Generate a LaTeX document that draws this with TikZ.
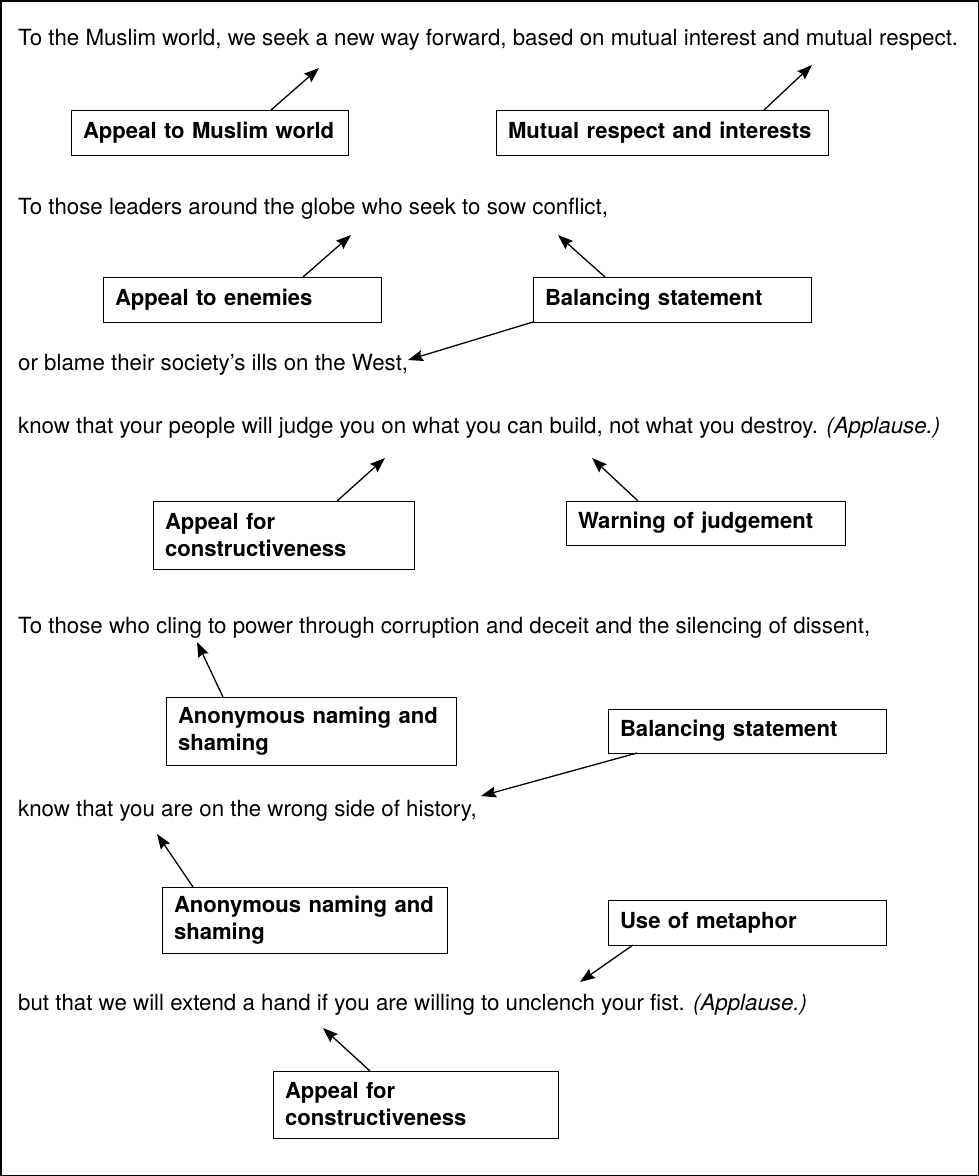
\documentclass[tikz,border=0pt]{standalone}
\usepackage{fontspec}
\setmainfont{TeX Gyre Heros}
\usetikzlibrary{arrows.meta}

\begin{document}
\begin{tikzpicture}[
		x=1pt, y=-1pt,
		font=\fontsize{22.3}{27}\selectfont,
		% Speech line styles
		speech/.style={anchor=base west, inner sep=0pt},
		% Annotation box styles
		tag/.style={draw, line width=1pt, anchor=north west, font=\fontsize{22.1}{27}\selectfont\bfseries, align=left, inner xsep=12pt, inner ysep=0pt, outer sep=0pt},
		% Pointer styles
		pointer/.style={-{Stealth[length=15pt, width=11pt, inset=2pt]}, line width=1.3pt}
		]
		
		\useasboundingbox (0,0) rectangle (979,1176);
		\draw[line width=1.5pt] (0.75,0.75) rectangle (978.25,1175.25);
		
		% --- SPEECH LINES ---
		\node[speech] (l1) at (18,45) {To the Muslim world, we seek a new way forward, based on mutual interest and mutual respect.};
		\node[speech] (l2) at (18,214) {To those leaders around the globe who seek to sow conflict,};
		\node[speech] (l3) at (18,370) {or blame their society's ills on the West,};
		\node[speech] (l4) at (18,433) {know that your people will judge you on what you can build, not what you destroy. \textit{(Applause.)}};
		\node[speech] (l5) at (18,633) {To those who cling to power through corruption and deceit and the silencing of dissent,};
		\node[speech] (l6) at (18,816) {know that you are on the wrong side of history,};
		\node[speech] (l7) at (18,1010) {but that we will extend a hand if you are willing to unclench your fist. \textit{(Applause.)}};
		
		% --- ANNOTATION BOXES ---
		\node[tag, text width=253pt, minimum height=45pt] (muslim) at (71,110) {Appeal to Muslim world};
		\node[tag, text width=308pt, minimum height=45pt] (mutual) at (496,110) {Mutual respect and interests};
		\node[tag, text width=254pt, minimum height=45pt] (enemies) at (103,277) {Appeal to enemies};
		\node[tag, text width=254pt, minimum height=45pt] (balanceA) at (533,277) {Balancing statement};
		\node[tag, text width=237pt, minimum height=68pt] (constructA) at (153,501) {Appeal for\\constructiveness};
		\node[tag, text width=255pt, minimum height=44pt] (warning) at (566,501) {Warning of judgement};
		\node[tag, text width=266pt, minimum height=68pt] (shameA) at (166,697) {Anonymous naming and\\shaming};
		\node[tag, text width=254pt, minimum height=44pt] (balanceB) at (608,709) {Balancing statement};
		\node[tag, text width=261pt, minimum height=66pt] (shameB) at (162,887) {Anonymous naming and\\shaming};
		\node[tag, text width=254pt, minimum height=45pt] (metaphor) at (608,900) {Use of metaphor};
		\node[tag, text width=261pt, minimum height=67pt] (constructB) at (273,1071) {Appeal for\\constructiveness};
		
		% --- POINTER TARGETS ---
		\coordinate (t_muslim) at (319,68);
		\coordinate (t_mutual) at (812,65);
		\coordinate (t_enemies) at (351,235);
		\coordinate (t_balanceA1) at (558,235);
		\coordinate (t_balanceA2) at (408,360);
		\coordinate (t_constructA) at (385,458);
		\coordinate (t_warning) at (592,458);
		\coordinate (t_shameA) at (197,642);
		\coordinate (t_balanceB) at (481,796);
		\coordinate (t_shameB) at (157,834);
		\coordinate (t_metaphor) at (580,982);
		\coordinate (t_constructB) at (323,1028);
		
		% Connections
		\draw[pointer] ([xshift=200pt]muslim.north west) -- (t_muslim);
		\draw[pointer] ([xshift=268pt]mutual.north west) -- (t_mutual);
		\draw[pointer] ([xshift=200pt]enemies.north west) -- (t_enemies);
		\draw[pointer] ([xshift=72pt]balanceA.north west) -- (t_balanceA1);
		\draw[pointer] (balanceA.south west) -- (t_balanceA2);
		\draw[pointer] ([xshift=184pt]constructA.north west) -- (t_constructA);
		\draw[pointer] ([xshift=72pt]warning.north west) -- (t_warning);
		\draw[pointer] ([xshift=57pt]shameA.north west) -- (t_shameA);
		\draw[pointer] ([xshift=29pt]balanceB.south west) -- (t_balanceB);
		\draw[pointer] ([xshift=31pt]shameB.north west) -- (t_shameB);
		\draw[pointer] ([xshift=25pt]metaphor.south west) -- (t_metaphor);
		\draw[pointer] ([xshift=97pt]constructB.north west) -- (t_constructB);
		
	\end{tikzpicture}
\end{document}
